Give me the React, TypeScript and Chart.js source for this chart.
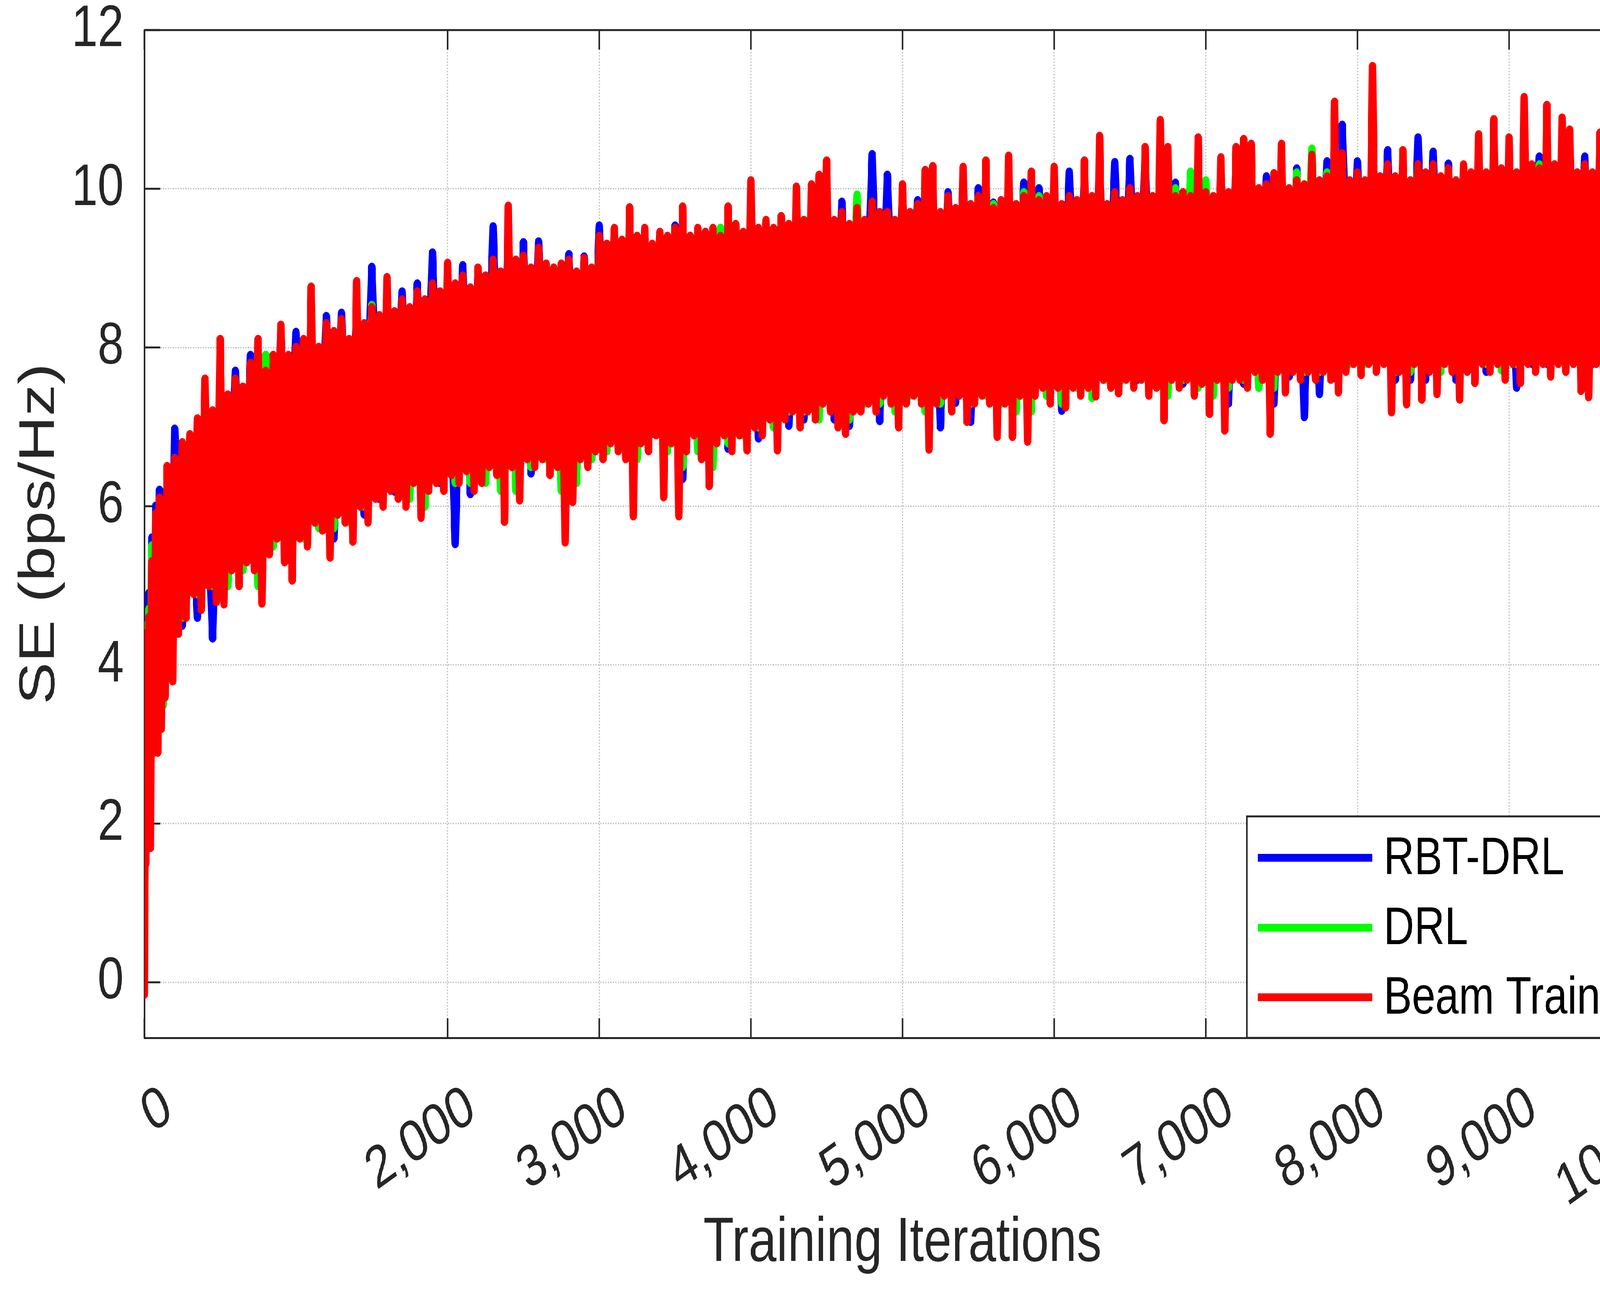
import React, { useEffect, useRef } from "react";
import { Chart, registerables } from "chart.js";

Chart.register(...registerables);

// ---------------- data ----------------
// Beam Training is sampled finer (it is the trace drawn on top)
const beamIterations = [
  0, 5, 10, 16, 22, 30, 40, 50, 62, 75, 88, 100, 112, 125, 137, 150, 162, 175, 187, 200,
  225, 250, 275, 300, 325, 350, 375, 400, 425, 450, 475, 500, 525, 550, 575, 600, 625, 650, 675, 700,
  725, 750, 775, 800, 825, 850, 875, 900, 925, 950, 975, 1000, 1025, 1050, 1075, 1100, 1125, 1150, 1175, 1200,
  1225, 1250, 1275, 1300, 1325, 1350, 1375, 1400, 1425, 1450, 1475, 1500, 1525, 1550, 1575, 1600, 1625, 1650, 1675, 1700,
  1725, 1750, 1775, 1800, 1825, 1850, 1875, 1900, 1925, 1950, 1975, 2000, 2025, 2050, 2075, 2100, 2125, 2150, 2175, 2200,
  2225, 2250, 2275, 2300, 2325, 2350, 2375, 2400, 2425, 2450, 2475, 2500, 2525, 2550, 2575, 2600, 2625, 2650, 2675, 2700,
  2725, 2750, 2775, 2800, 2825, 2850, 2875, 2900, 2925, 2950, 2975, 3000, 3025, 3050, 3075, 3100, 3125, 3150, 3175, 3200,
  3225, 3250, 3275, 3300, 3325, 3350, 3375, 3400, 3425, 3450, 3475, 3500, 3525, 3550, 3575, 3600, 3625, 3650, 3675, 3700,
  3725, 3750, 3775, 3800, 3825, 3850, 3875, 3900, 3925, 3950, 3975, 4000, 4025, 4050, 4075, 4100, 4125, 4150, 4175, 4200,
  4225, 4250, 4275, 4300, 4325, 4350, 4375, 4400, 4425, 4450, 4475, 4500, 4525, 4550, 4575, 4600, 4625, 4650, 4675, 4700,
  4725, 4750, 4775, 4800, 4825, 4850, 4875, 4900, 4925, 4950, 4975, 5000, 5025, 5050, 5075, 5100, 5125, 5150, 5175, 5200,
  5225, 5250, 5275, 5300, 5325, 5350, 5375, 5400, 5425, 5450, 5475, 5500, 5525, 5550, 5575, 5600, 5625, 5650, 5675, 5700,
  5725, 5750, 5775, 5800, 5825, 5850, 5875, 5900, 5925, 5950, 5975, 6000, 6025, 6050, 6075, 6100, 6125, 6150, 6175, 6200,
  6225, 6250, 6275, 6300, 6325, 6350, 6375, 6400, 6425, 6450, 6475, 6500, 6525, 6550, 6575, 6600, 6625, 6650, 6675, 6700,
  6725, 6750, 6775, 6800, 6825, 6850, 6875, 6900, 6925, 6950, 6975, 7000, 7025, 7050, 7075, 7100, 7125, 7150, 7175, 7200,
  7225, 7250, 7275, 7300, 7325, 7350, 7375, 7400, 7425, 7450, 7475, 7500, 7525, 7550, 7575, 7600, 7625, 7650, 7675, 7700,
  7725, 7750, 7775, 7800, 7825, 7850, 7875, 7900, 7925, 7950, 7975, 8000, 8025, 8050, 8075, 8100, 8125, 8150, 8175, 8200,
  8225, 8250, 8275, 8300, 8325, 8350, 8375, 8400, 8425, 8450, 8475, 8500, 8525, 8550, 8575, 8600, 8625, 8650, 8675, 8700,
  8725, 8750, 8775, 8800, 8825, 8850, 8875, 8900, 8925, 8950, 8975, 9000, 9025, 9050, 9075, 9100, 9125, 9150, 9175, 9200,
  9225, 9250, 9275, 9300, 9325, 9350, 9375, 9400, 9425, 9450, 9475, 9500, 9525, 9550, 9575, 9600, 9625, 9650, 9675, 9700,
  9725, 9750, 9775, 9800, 9825, 9850, 9875, 9900, 9925, 9950, 9975, 10000,
];

const beamTraining = [
  -0.15, 2.9, 1.5, 4.4, 1.9, 4.6, 1.7, 5.3, 2.9, 5.9, 2.9, 6.1, 3.2, 5.8, 3.6, 6.5, 4.1, 6.2, 3.8, 6.6,
  4.4, 6.8, 4.6, 6.9, 4.9, 7.1, 4.7, 7.6, 5.0, 7.2, 4.8, 8.1, 4.77, 7.4, 5.2, 7.6, 5.0, 7.5, 5.3, 7.8,
  5.2, 8.1, 4.78, 7.7, 5.4, 7.9, 5.6, 8.28, 5.3, 7.9, 5.07, 8.0, 5.6, 8.1, 5.5, 8.76, 5.8, 8.0, 5.7, 8.3,
  5.36, 8.2, 5.9, 8.35, 5.8, 8.1, 5.56, 8.83, 6.0, 8.3, 5.8, 8.5, 6.1, 8.4, 6.0, 8.88, 6.2, 8.45, 6.1, 8.6,
  6.0, 8.5, 6.3, 8.7, 5.86, 8.6, 6.2, 8.8, 6.3, 8.7, 6.2, 9.06, 6.4, 8.8, 6.3, 8.9, 6.45, 8.75, 6.2, 9.0,
  6.3, 8.9, 6.5, 9.1, 6.4, 8.95, 5.81, 9.78, 6.5, 9.1, 6.08, 9.15, 6.6, 9.0, 6.5, 9.25, 6.6, 9.05, 6.4, 9.0,
  6.5, 9.05, 5.55, 9.1, 6.06, 8.95, 6.6, 9.12, 6.5, 9.0, 6.7, 9.4, 6.6, 9.3, 6.8, 9.5, 6.7, 9.35, 6.6, 9.76,
  5.88, 9.4, 6.8, 9.5, 6.7, 9.3, 6.9, 9.45, 6.12, 9.4, 6.8, 9.5, 5.88, 9.77, 6.7, 9.4, 6.9, 9.5, 6.6, 9.45,
  6.26, 9.5, 6.8, 9.4, 6.9, 9.77, 6.7, 9.55, 6.9, 9.45, 6.71, 10.1, 7.0, 9.5, 6.9, 9.6, 7.1, 9.5, 6.71, 9.65,
  7.1, 9.55, 7.2, 10.02, 7.0, 9.6, 7.2, 10.05, 7.1, 10.17, 7.3, 10.35, 7.2, 9.6, 7.0, 9.7, 6.92, 9.55, 7.2, 9.75,
  7.2, 9.6, 7.3, 9.83, 7.2, 9.7, 7.4, 9.7, 7.3, 9.6, 7.0, 10.05, 7.3, 9.7, 7.4, 9.8, 7.3, 10.23, 6.72, 10.28,
  7.3, 9.7, 7.4, 9.9, 7.2, 9.75, 7.4, 10.27, 7.07, 9.8, 7.3, 9.9, 7.4, 10.35, 7.3, 9.75, 6.88, 9.85, 7.3, 10.41,
  6.88, 9.8, 7.4, 9.9, 6.82, 10.21, 7.4, 9.85, 7.5, 9.9, 7.3, 10.27, 7.5, 9.8, 7.25, 9.9, 7.5, 9.85, 7.4, 10.35,
  7.5, 9.9, 7.39, 10.66, 7.6, 9.8, 7.5, 9.95, 7.43, 9.85, 7.6, 10.0, 7.5, 9.9, 7.6, 10.52, 7.4, 9.9, 7.5, 10.86,
  7.09, 10.52, 7.6, 9.9, 7.5, 9.95, 7.6, 9.9, 7.4, 10.64, 7.55, 9.95, 7.17, 9.9, 7.6, 10.39, 6.96, 9.95, 7.6, 10.52,
  7.6, 10.62, 7.5, 10.56, 7.7, 10.0, 7.6, 10.05, 6.92, 10.19, 7.7, 10.56, 7.44, 10.0, 7.7, 10.1, 7.6, 10.05, 7.7, 10.42,
  7.6, 10.1, 7.7, 10.15, 7.6, 11.09, 7.44, 10.44, 7.7, 10.1, 7.8, 10.2, 7.66, 10.1, 7.8, 11.54, 7.7, 10.15, 7.8, 10.3,
  7.19, 10.15, 7.7, 10.48, 7.29, 10.1, 7.8, 10.3, 7.35, 10.2, 7.7, 10.3, 7.42, 10.15, 7.8, 10.25, 7.7, 10.1, 7.35, 10.3,
  7.7, 10.2, 7.56, 10.68, 7.8, 10.2, 7.7, 10.87, 7.8, 10.25, 7.6, 10.64, 7.8, 10.2, 7.56, 11.15, 7.8, 10.3, 7.7, 10.25,
  7.8, 11.05, 7.64, 10.3, 7.8, 10.89, 7.7, 10.74, 7.8, 10.2, 7.46, 10.3, 7.38, 10.2, 7.8, 10.7, 7.62, 10.25, 7.8, 10.93,
  7.7, 10.3, 6.88, 10.7, 7.8, 10.25, 7.76, 10.3, 7.9, 10.66, 7.9, 10.1,
];

// RBT-DRL and DRL traces (mostly hidden under Beam Training)
const iterations = [
  0, 5, 10, 16, 22, 30, 40, 50, 62, 75, 88, 100, 125, 150, 175, 200,
  250, 300, 350, 400, 450, 500, 550, 600, 650, 700,
  750, 800, 850, 900, 950, 1000, 1050, 1100, 1150, 1200,
  1250, 1300, 1350, 1400, 1450, 1500, 1550, 1600, 1650, 1700,
  1750, 1800, 1850, 1900, 1950, 2000, 2050, 2100, 2150, 2200,
  2250, 2300, 2350, 2400, 2450, 2500, 2550, 2600, 2650, 2700,
  2750, 2800, 2850, 2900, 2950, 3000, 3050, 3100, 3150, 3200,
  3250, 3300, 3350, 3400, 3450, 3500, 3550, 3600, 3650, 3700,
  3750, 3800, 3850, 3900, 3950, 4000, 4050, 4100, 4150, 4200,
  4250, 4300, 4350, 4400, 4450, 4500, 4550, 4600, 4650, 4700,
  4750, 4800, 4850, 4900, 4950, 5000, 5050, 5100, 5150, 5200,
  5250, 5300, 5350, 5400, 5450, 5500, 5550, 5600, 5650, 5700,
  5750, 5800, 5850, 5900, 5950, 6000, 6050, 6100, 6150, 6200,
  6250, 6300, 6350, 6400, 6450, 6500, 6550, 6600, 6650, 6700,
  6750, 6800, 6850, 6900, 6950, 7000, 7050, 7100, 7150, 7200,
  7250, 7300, 7350, 7400, 7450, 7500, 7550, 7600, 7650, 7700,
  7750, 7800, 7850, 7900, 7950, 8000, 8050, 8100, 8150, 8200,
  8250, 8300, 8350, 8400, 8450, 8500, 8550, 8600, 8650, 8700,
  8750, 8800, 8850, 8900, 8950, 9000, 9050, 9100, 9150, 9200,
  9250, 9300, 9350, 9400, 9450, 9500, 9550, 9600, 9650, 9700,
  9750, 9800, 9850, 9900, 9950, 10000,
];

const rbtDrl = [
  -0.1, 3.2, 2.0, 4.6, 2.2, 4.9, 2.7, 5.6, 3.1, 6.0, 3.0, 6.2, 3.58, 6.3, 4.2, 6.97,
  4.5, 6.8, 4.6, 7.1, 4.34, 7.6, 5.0, 7.7, 5.2, 7.9,
  5.56, 7.9, 5.6, 8.17, 5.5, 8.19, 5.7, 8.2, 5.9, 8.39,
  5.6, 8.43, 5.92, 8.5, 5.9, 9.01, 6.1, 8.6, 6.19, 8.7,
  6.19, 8.8, 6.1, 9.19, 6.3, 8.9, 5.53, 9.03, 6.16, 8.95,
  6.4, 9.52, 6.45, 9.4, 6.3, 9.32, 6.42, 9.33, 6.6, 9.0,
  6.5, 9.17, 6.3, 9.14, 6.6, 9.53, 6.7, 9.41, 6.8, 9.5,
  6.7, 9.35, 6.92, 9.4, 6.7, 9.53, 6.35, 9.4, 6.8, 9.45,
  6.67, 9.5, 6.73, 9.5, 6.9, 9.6, 6.86, 9.55, 7.0, 9.6,
  7.02, 9.7, 7.1, 9.75, 7.2, 9.8, 7.1, 9.83, 7.02, 9.7,
  7.3, 10.43, 7.08, 10.17, 7.41, 9.9, 7.6, 9.85, 7.2, 9.9,
  7.0, 9.95, 7.31, 10.13, 7.07, 10.0, 7.4, 9.82, 7.3, 10.0,
  7.3, 10.07, 7.29, 10.0, 7.4, 10.1, 7.21, 10.21, 7.5, 10.2,
  7.5, 10.3, 7.6, 10.33, 7.6, 10.37, 7.6, 10.4, 7.55, 10.2,
  7.55, 10.07, 7.55, 10.07, 7.84, 9.94, 7.5, 10.2, 7.3, 10.37,
  7.55, 10.3, 7.5, 10.15, 7.3, 10.2, 7.64, 10.25, 7.13, 10.3,
  7.42, 10.34, 7.62, 10.8, 7.8, 10.34, 7.9, 10.4, 8.0, 10.48,
  7.6, 10.3, 7.6, 10.64, 7.6, 10.46, 7.7, 10.31, 7.6, 10.2,
  7.8, 10.3, 7.7, 10.4, 7.8, 10.3, 7.5, 10.54, 7.8, 10.4,
  7.8, 10.3, 7.9, 10.54, 7.97, 10.4, 7.8, 10.5, 7.88, 10.58,
  7.9, 11.17, 7.9, 10.3, 8.0, 10.17,
];

const drl = [
  -0.1, 3.0, 1.9, 4.5, 2.1, 4.7, 2.8, 5.5, 3.0, 5.9, 3.1, 6.0, 3.5, 6.3, 4.0, 6.6,
  4.6, 6.8, 4.9, 7.2, 5.0, 7.5, 5.0, 7.4, 5.2, 7.7,
  5.0, 7.9, 5.5, 8.0, 5.4, 7.95, 5.6, 8.3, 5.73, 8.2,
  5.73, 8.3, 5.8, 8.4, 6.0, 8.53, 6.2, 8.5, 6.42, 8.5,
  6.1, 8.6, 6.0, 8.7, 6.39, 8.9, 6.3, 8.8, 6.3, 8.9,
  6.3, 9.0, 6.2, 9.3, 6.2, 9.0, 6.5, 9.04, 6.6, 9.0,
  6.2, 9.0, 6.3, 9.1, 6.6, 9.3, 6.7, 9.4, 6.8, 9.5,
  6.6, 9.4, 7.02, 9.4, 6.7, 9.5, 6.5, 9.4, 6.7, 9.4,
  6.5, 9.5, 6.8, 9.5, 6.9, 9.7, 7.0, 9.5, 7.0, 9.55,
  7.2, 9.7, 7.2, 9.7, 7.1, 9.8, 7.27, 9.6, 7.1, 9.92,
  7.3, 9.55, 7.3, 9.59, 7.2, 9.8, 7.4, 9.7, 7.2, 9.8,
  7.3, 9.8, 7.47, 9.9, 7.3, 9.9, 7.4, 9.8, 7.3, 9.9,
  7.2, 9.95, 7.2, 9.9, 7.4, 9.9, 7.3, 9.8, 7.5, 9.9,
  7.37, 10.0, 7.6, 9.9, 7.6, 9.95, 7.76, 10.0, 7.6, 10.0,
  7.4, 10.0, 7.6, 10.21, 7.5, 10.1, 7.4, 10.0, 7.5, 10.1,
  7.6, 10.3, 7.5, 9.98, 7.5, 10.19, 7.86, 10.2, 7.7, 10.5,
  7.7, 10.2, 7.84, 10.21, 7.8, 10.0, 7.8, 10.1, 7.9, 9.97,
  7.7, 10.2, 7.7, 10.3, 7.76, 10.2, 7.7, 10.2, 7.8, 10.2,
  7.8, 10.3, 7.8, 10.3, 7.72, 10.3, 7.8, 10.3, 7.9, 10.3,
  7.9, 10.3, 8.13, 10.3, 7.9, 10.3, 7.9, 10.4, 7.9, 10.4,
  7.9, 10.25, 7.95, 10.48, 8.0, 10.2,
];

const xTickValues = [0, 2000, 3000, 4000, 5000, 6000, 7000, 8000, 9000, 10000];
const yTickValues = [0, 2, 4, 6, 8, 10, 12];
const seriesNames = ["RBT-DRL", "DRL", "Beam Training"];
const seriesColors = ["#0000ff", "#00ff00", "#ff0000"];
const xTitle = "Training Iterations";
const yTitle = "SE (bps/Hz)";

// ---------------- layout / style ----------------
const SQUEEZE = 0.8;
const FULL_W = 4331;
const FULL_H = 3305;
const CANVAS_W = Math.round(FULL_W / SQUEEZE);
const FONT = "'Liberation Sans', Arial, Helvetica, sans-serif";
const AXIS_COLOR = "#262626";
const GRID_COLOR = "#c6c6c6";
const LINE_W = 24;

const toPoints = (xs: number[], ys: number[]) =>
  ys.slice(0, xs.length).map((y, i) => ({ x: xs[i], y }));

const axisDecor = {
  id: "axisDecor",
  beforeDatasetsDraw(chart: any) {
    const { ctx, chartArea: a, scales } = chart;
    const x = scales.x;
    const y = scales.y;
    ctx.save();
    ctx.strokeStyle = AXIS_COLOR;
    ctx.lineWidth = 5;
    ctx.beginPath();
    ctx.moveTo(a.left, a.top);
    ctx.lineTo(a.right, a.top);
    ctx.lineTo(a.right, a.bottom);
    ctx.stroke();
    ctx.beginPath();
    const len = 50;
    xTickValues.forEach((v) => {
      const px = x.getPixelForValue(v);
      ctx.moveTo(px, a.bottom);
      ctx.lineTo(px, a.bottom - len);
      ctx.moveTo(px, a.top);
      ctx.lineTo(px, a.top + len);
    });
    yTickValues.forEach((v) => {
      const py = y.getPixelForValue(v);
      ctx.moveTo(a.left, py);
      ctx.lineTo(a.left + len, py);
      ctx.moveTo(a.right, py);
      ctx.lineTo(a.right - len, py);
    });
    ctx.stroke();
    ctx.restore();
  },
};

const legendBox = {
  id: "legendBox",
  afterDraw(chart: any) {
    const { ctx, chartArea: a } = chart;
    const right = a.right + 6;
    const bottom = a.bottom;
    const left = a.right - 1324;
    const top = a.bottom - 567;
    ctx.save();
    ctx.fillStyle = "#ffffff";
    ctx.fillRect(left, top, right - left, bottom - top);
    ctx.strokeStyle = AXIS_COLOR;
    ctx.lineWidth = 5;
    ctx.strokeRect(left, top, right - left, bottom - top);
    const rows = [106, 285, 463];
    seriesNames.forEach((name, i) => {
      const yy = top + rows[i];
      ctx.beginPath();
      ctx.strokeStyle = seriesColors[i];
      ctx.lineWidth = 20;
      ctx.lineCap = "butt";
      ctx.moveTo(left + 35, yy);
      ctx.lineTo(left + 401, yy);
      ctx.stroke();
      ctx.fillStyle = "#000000";
      ctx.font = `135px ${FONT}`;
      ctx.textAlign = "left";
      ctx.textBaseline = "middle";
      ctx.fillText(name, left + 438, yy + 5);
    });
    ctx.restore();
  },
};

export default function App() {
  const ref = useRef<HTMLCanvasElement>(null);

  useEffect(() => {
    const canvas = ref.current;
    if (!canvas) return;
    const lineStyle = {
      borderWidth: LINE_W,
      pointRadius: 0,
      tension: 0,
      fill: false,
      borderCapStyle: "round" as const,
      borderJoinStyle: "round" as const,
    };
    const chart = new Chart(canvas, {
      type: "line",
      data: {
        datasets: [
          {
            label: seriesNames[2],
            data: toPoints(beamIterations, beamTraining),
            borderColor: seriesColors[2],
            order: 0,
            ...lineStyle,
          },
          {
            label: seriesNames[1],
            data: toPoints(iterations, drl),
            borderColor: seriesColors[1],
            order: 1,
            ...lineStyle,
          },
          {
            label: seriesNames[0],
            data: toPoints(iterations, rbtDrl),
            borderColor: seriesColors[0],
            order: 2,
            ...lineStyle,
          },
        ],
      },
      options: {
        responsive: false,
        animation: false,
        devicePixelRatio: 1,
        events: [],
        layout: { padding: { top: 77, right: 100, left: 0, bottom: 0 } },
        plugins: {
          legend: { display: false },
          tooltip: { enabled: false },
          title: { display: false },
        },
        scales: {
          x: {
            type: "linear",
            min: 0,
            max: 10000,
            afterBuildTicks: (s: any) => {
              s.ticks = xTickValues.map((v) => ({ value: v }));
            },
            afterFit: (s: any) => {
              s.height = 648;
              s.paddingLeft = 0;
              s.paddingRight = 0;
            },
            ticks: {
              autoSkip: false,
              minRotation: 30,
              maxRotation: 30,
              padding: 89,
              labelOffset: 77,
              color: AXIS_COLOR,
              font: { family: FONT, size: 150 },
              callback: (v: any) => Number(v).toLocaleString("en-US"),
            },
            grid: { color: GRID_COLOR, lineWidth: 4, drawTicks: false },
            border: { display: true, color: AXIS_COLOR, width: 5, dash: [4, 4] },
            title: {
              display: true,
              text: xTitle,
              color: AXIS_COLOR,
              font: { family: FONT, size: 160 },
              padding: { top: 0, bottom: 25 },
            },
          },
          y: {
            type: "linear",
            min: -0.7,
            max: 12,
            afterBuildTicks: (s: any) => {
              s.ticks = yTickValues.map((v) => ({ value: v }));
            },
            afterFit: (s: any) => {
              s.width = 462;
              s.paddingTop = 0;
              s.paddingBottom = 0;
            },
            ticks: {
              autoSkip: false,
              padding: 66,
              color: AXIS_COLOR,
              font: { family: FONT, size: 150 },
              callback: (v: any) => String(v),
            },
            grid: { color: GRID_COLOR, lineWidth: 4, drawTicks: false },
            border: { display: true, color: AXIS_COLOR, width: 5, dash: [4, 4] },
            title: {
              display: true,
              text: yTitle,
              color: AXIS_COLOR,
              font: { family: FONT, size: 162 },
              padding: { top: 31, bottom: 0 },
            },
          },
        },
      },
      plugins: [axisDecor, legendBox],
    } as any);
    return () => chart.destroy();
  }, []);

  return (
    <div
      style={{
        position: "absolute",
        left: 0,
        top: 0,
        width: CANVAS_W,
        height: FULL_H,
        transform: `scaleX(${SQUEEZE})`,
        transformOrigin: "0 0",
        background: "#ffffff",
      }}
    >
      <canvas
        ref={ref}
        width={CANVAS_W}
        height={FULL_H}
        style={{ display: "block", width: CANVAS_W, height: FULL_H }}
      />
    </div>
  );
}
